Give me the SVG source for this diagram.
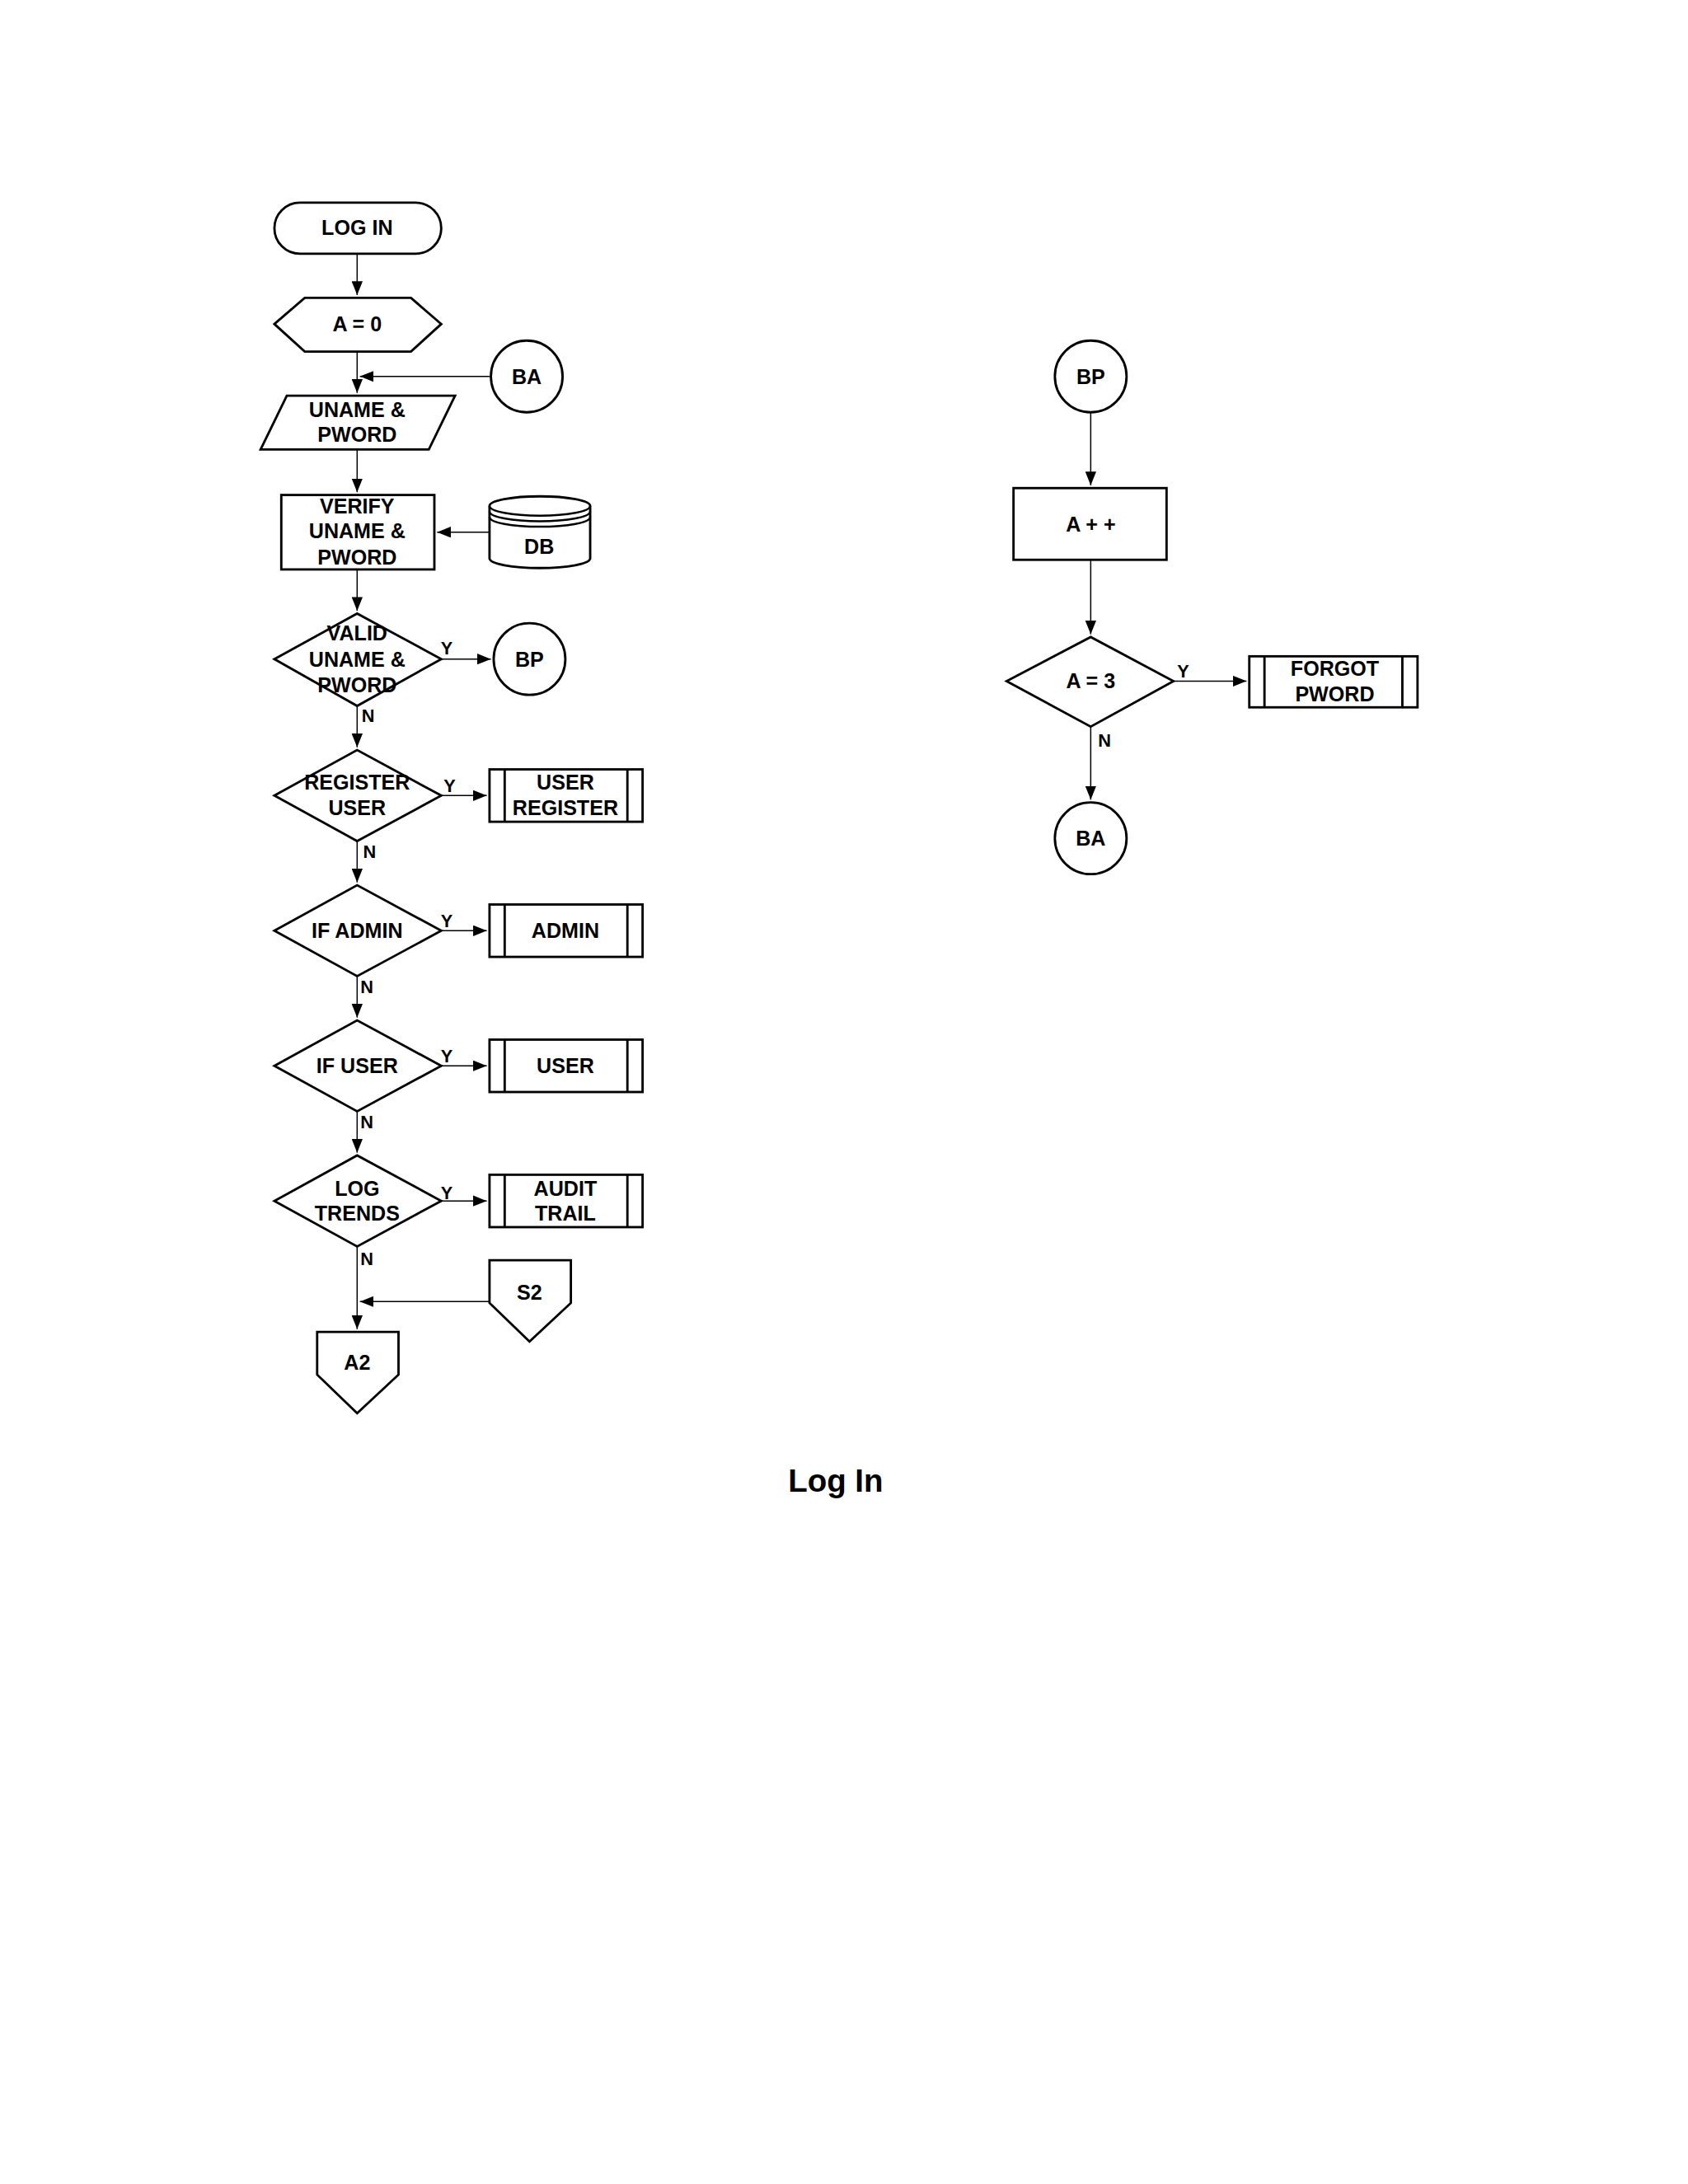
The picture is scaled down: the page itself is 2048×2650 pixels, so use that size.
<svg xmlns="http://www.w3.org/2000/svg" width="2048" height="2650" viewBox="0 0 2048 2650">
<style>
.s{fill:#fff;stroke:#000;stroke-width:1.7}
.c{fill:none;stroke:#000;stroke-width:0.9}
text{font-family:"Liberation Sans",Arial,sans-serif;font-weight:bold;font-size:15px;text-anchor:middle;dominant-baseline:central}
.l{font-size:13px}
</style>
<defs>
<marker id="a" markerUnits="userSpaceOnUse" markerWidth="10" markerHeight="8" refX="10" refY="4" orient="auto"><path d="M0,0L10,4L0,8z" fill="#000"/></marker>
</defs>
<rect width="2048" height="2650" fill="#fff"/>
<g transform="scale(1.673)">
<g id="connectors" class="c">
<path d="M259,184V214" marker-end="url(#a)"/>
<path d="M259,255V285" marker-end="url(#a)"/>
<path d="M356,273H261" marker-end="url(#a)"/>
<path d="M259,326V357" marker-end="url(#a)"/>
<path d="M355,386H317" marker-end="url(#a)"/>
<path d="M259,413V443" marker-end="url(#a)"/>
<path d="M320,478H356" marker-end="url(#a)"/>
<path d="M259,512V542" marker-end="url(#a)"/>
<path d="M320,577H353" marker-end="url(#a)"/>
<path d="M259,610V640" marker-end="url(#a)"/>
<path d="M320,675H353" marker-end="url(#a)"/>
<path d="M259,708V738" marker-end="url(#a)"/>
<path d="M320,773H353" marker-end="url(#a)"/>
<path d="M259,806V836" marker-end="url(#a)"/>
<path d="M320,871H353" marker-end="url(#a)"/>
<path d="M259,904V964" marker-end="url(#a)"/>
<path d="M355,944H261" marker-end="url(#a)"/>
<path d="M791,299V352" marker-end="url(#a)"/>
<path d="M791,406V460" marker-end="url(#a)"/>
<path d="M851,494H904" marker-end="url(#a)"/>
<path d="M791,527V580" marker-end="url(#a)"/>
</g>
<g id="labels">
<text class="l" x="324" y="470">Y</text>
<text class="l" x="267" y="519">N</text>
<text class="l" x="326" y="570">Y</text>
<text class="l" x="268" y="618">N</text>
<text class="l" x="324" y="668">Y</text>
<text class="l" x="266" y="716">N</text>
<text class="l" x="324" y="766">Y</text>
<text class="l" x="266" y="814">N</text>
<text class="l" x="324" y="865">Y</text>
<text class="l" x="266" y="913">N</text>
<text class="l" x="858" y="487">Y</text>
<text class="l" x="801" y="537">N</text>
</g>
<g id="login"><rect class="s" x="199" y="147" width="121" height="37" rx="18.5"/><text x="259" y="165">LOG IN</text></g>
<g id="a0"><path class="s" d="M199,235L221,216H298L320,235L298,255H221z"/><text x="259" y="235">A = 0</text></g>
<g id="ba1"><circle class="s" cx="382" cy="273" r="26"/><text x="382" y="273">BA</text></g>
<g id="input"><path class="s" d="M208,287H330L311,326H189z"/><text x="259" y="297">UNAME &amp;</text><text x="259" y="315">PWORD</text></g>
<g id="verify"><rect class="s" x="204" y="359" width="111" height="54"/><text x="259" y="367">VERIFY</text><text x="259" y="385">UNAME &amp;</text><text x="259" y="404">PWORD</text></g>
<g id="db"><path class="s" d="M355,367A36.5,7 0 0 1 428,367V405A36.5,7 0 0 1 355,405z"/><path class="c" style="stroke-width:1.5" d="M355,367A36.5,7 0 0 0 428,367M355,371A36.5,7 0 0 0 428,371M355,375A36.5,7 0 0 0 428,375"/><text x="391" y="396">DB</text></g>
<g id="valid"><path class="s" d="M199,478L259,445L320,478L259,512z"/><text x="259" y="459">VALID</text><text x="259" y="478">UNAME &amp;</text><text x="259" y="497">PWORD</text></g>
<g id="bp1"><circle class="s" cx="384" cy="478" r="26"/><text x="384" y="478">BP</text></g>
<g id="register"><path class="s" d="M199,577L259,544L320,577L259,610z"/><text x="259" y="567">REGISTER</text><text x="259" y="586">USER</text></g>
<g id="userreg"><rect class="s" x="355" y="558" width="111" height="38"/><path class="s" d="M366,558V596M455,558V596"/><text x="410" y="567">USER</text><text x="410" y="586">REGISTER</text></g>
<g id="ifadmin"><path class="s" d="M199,675L259,642L320,675L259,708z"/><text x="259" y="675">IF ADMIN</text></g>
<g id="admin"><rect class="s" x="355" y="656" width="111" height="38"/><path class="s" d="M366,656V694M455,656V694"/><text x="410" y="675">ADMIN</text></g>
<g id="ifuser"><path class="s" d="M199,773L259,740L320,773L259,806z"/><text x="259" y="773">IF USER</text></g>
<g id="user"><rect class="s" x="355" y="754" width="111" height="38"/><path class="s" d="M366,754V792M455,754V792"/><text x="410" y="773">USER</text></g>
<g id="logtrends"><path class="s" d="M199,871L259,838L320,871L259,904z"/><text x="259" y="862">LOG</text><text x="259" y="880">TRENDS</text></g>
<g id="audit"><rect class="s" x="355" y="852" width="111" height="38"/><path class="s" d="M366,852V890M455,852V890"/><text x="410" y="862">AUDIT</text><text x="410" y="880">TRAIL</text></g>
<g id="s2"><path class="s" d="M355,914H414V945L384,973L355,945z"/><text x="384" y="937">S2</text></g>
<g id="a2"><path class="s" d="M230,966H289V997L259,1025L230,997z"/><text x="259" y="988">A2</text></g>
<g id="bp2"><circle class="s" cx="791" cy="273" r="26"/><text x="791" y="273">BP</text></g>
<g id="aplus"><rect class="s" x="735" y="354" width="111" height="52"/><text x="791" y="380">A + +</text></g>
<g id="a3"><path class="s" d="M730,494L791,462L851,494L791,527z"/><text x="791" y="494">A = 3</text></g>
<g id="forgot"><rect class="s" x="906" y="476" width="122" height="37"/><path class="s" d="M917,476V513M1017,476V513"/><text x="968" y="485">FORGOT</text><text x="968" y="503">PWORD</text></g>
<g id="ba2"><circle class="s" cx="791" cy="608" r="26"/><text x="791" y="608">BA</text></g>
<g id="title"><text x="606" y="1074" style="font-size:23px">Log In</text></g>
</g>
</svg>
